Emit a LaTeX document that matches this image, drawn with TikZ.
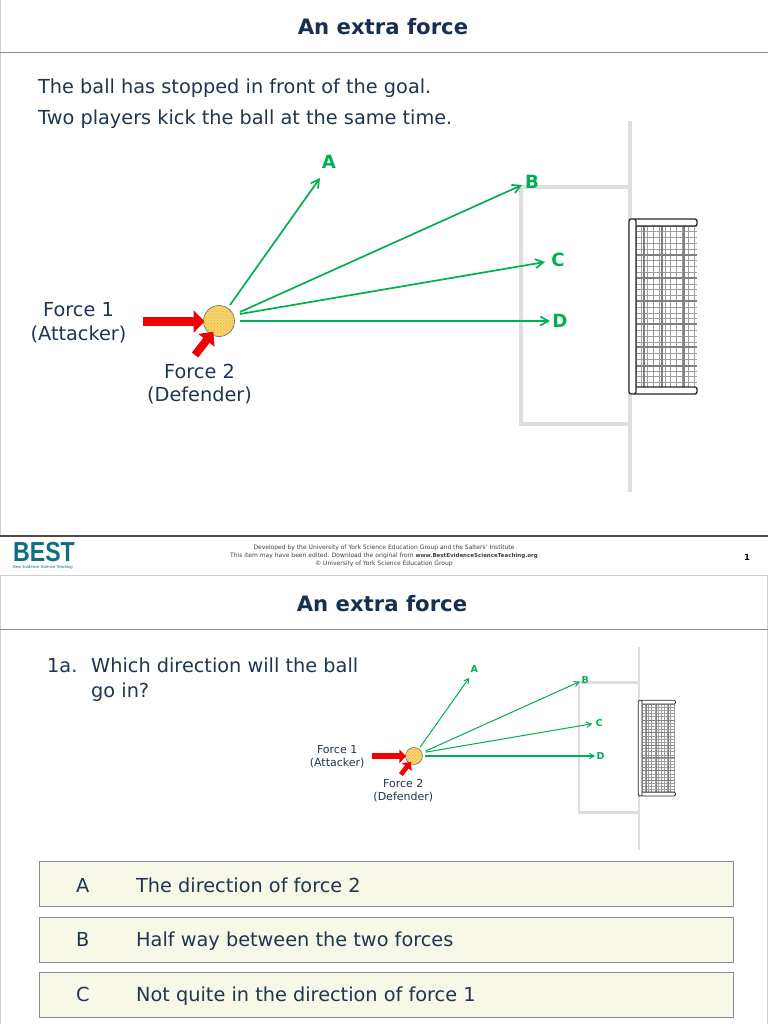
\documentclass[tikz,border=0pt]{standalone}
\usepackage{fontspec}
\setmainfont{DejaVu Sans}
\newfontfamily\logofont{Liberation Sans}
\usetikzlibrary{arrows.meta,patterns}
\definecolor{navy}{HTML}{17304F}
\definecolor{inktext}{HTML}{1F3550}
\definecolor{pitchgrey}{HTML}{DEDEDE}
\definecolor{arrowgreen}{HTML}{00B050}
\definecolor{forcered}{HTML}{F00000}
\definecolor{ballfill}{HTML}{F7D56C}
\definecolor{ballgrain}{HTML}{E8B040}
\definecolor{answerfill}{HTML}{F8F8E8}
\definecolor{answerline}{HTML}{7F8C99}
\definecolor{teal}{HTML}{0F6E84}
\newcommand{\fsz}[1]{\fontsize{#1}{\dimexpr#1pt*6/5\relax}\selectfont}
% #1 prefix, #2 #3 ball centre, #4 geometry scale, #5 text size, #6 label size, #7 line factor
\newcommand{\kickdiagram}[7]{%
\begin{scope}[shift={(#2,#3)},scale=#4]
  \def\lf{#7}
  % pitch markings
  \draw[draw=pitchgrey,line width=\lf*4.2pt] (411,-200) -- (411,171);
  \draw[draw=pitchgrey,line width=\lf*4.2pt] (411,-134) -- (302,-134) -- (302,103) -- (413,103);
  % net
  \foreach \xx in {417,422.8,...,478} {\draw[draw=black!38,line width=\lf*0.8pt] (\xx,-95) -- (\xx,66);}
  \foreach \yy in {-95,-89.2,...,66} {\draw[draw=black!38,line width=\lf*0.8pt] (417,\yy) -- (478,\yy);}
  \foreach \xx in {425,443,465} {\draw[draw=black!50,line width=\lf*1.1pt] (\xx,-95) -- (\xx,66);}
  \foreach \yy in {-66,-43,-20,3,26,45} {\draw[draw=black!50,line width=\lf*1.1pt] (417,\yy) -- (478,\yy);}
  % goal frame
  \draw[draw=black!85,fill=white,line width=\lf*1.3pt,rounded corners=\lf*2pt] (415,-102) rectangle (478,-95);
  \draw[draw=black!85,fill=white,line width=\lf*1.3pt,rounded corners=\lf*2pt] (415,66) rectangle (478,73);
  \draw[draw=black!85,fill=white,line width=\lf*1.3pt,rounded corners=\lf*2pt] (410,-102) rectangle (417,73);
  % ball
  \node[ball,minimum size=#4*31pt] (#1ball) at (0,0) {};
  % forces
  \coordinate (#1f1) at (-76,0.5);
  \coordinate (#1f1t) at (-14.5,0.5);
  \coordinate (#1f2) at (-24,34);
  \coordinate (#1f2t) at (-5.7,10.7);
  \draw[draw=forcered,line width=\lf*9.5pt,-{Triangle[length=\lf*11pt,width=\lf*22pt]}] (#1f1) -- (#1f1t);
  \draw[draw=forcered,line width=\lf*8pt,-{Triangle[length=\lf*11pt,width=\lf*20pt]}] (#1f2) -- (#1f2t);
  % direction labels
  \node[dirlabel,font=\bfseries\fsz{#6}] (#1A) at (110,-159) {A};
  \node[dirlabel,font=\bfseries\fsz{#6}] (#1B) at (313,-139) {B};
  \node[dirlabel,font=\bfseries\fsz{#6}] (#1C) at (339,-61) {C};
  \node[dirlabel,font=\bfseries\fsz{#6}] (#1D) at (341,0) {D};
  % direction arrows
  \coordinate (#1sa) at (11,-16);
  \coordinate (#1sb) at (21,-9);
  \coordinate (#1sc) at (21,-7);
  \coordinate (#1sd) at (21,0);
  \coordinate (#1ea) at (101,-143);
  \coordinate (#1eb) at (303,-136);
  \coordinate (#1ec) at (326,-59);
  \coordinate (#1ed) at (331,0);
  \foreach \p in {a,b,c,d} {\draw[draw=arrowgreen,line width=\lf*1.7pt,-{Straight Barb[length=\lf*8pt,width=\lf*9pt]}] (#1s\p) -- (#1e\p);}
  % force labels
  \node[lbl,font=\fsz{#5}] (#1l1) at (-140.5,1.8) {Force 1\\(Attacker)};
  \node[lbl,font=\fsz{#5}] (#1l2) at (-19.5,62.8) {Force 2\\(Defender)};
\end{scope}}
\tikzset{
  x=1pt,y=-1pt,
  ball/.style={circle,draw=black!60,line width=0.6pt,inner sep=0pt,fill=ballfill,
    postaction={pattern=crosshatch dots,pattern color=ballgrain}},
  dirlabel/.style={text=arrowgreen,inner sep=0pt},
  lbl/.style={text=inktext,align=center,inner sep=0pt},
  titletext/.style={text=navy,font=\bfseries\fsz{21.2}},
  bodytext/.style={text=inktext,font=\fsz{19.3},anchor=base west,inner sep=0pt},
  answer/.style={draw=answerline,fill=answerfill,line width=1.1pt,minimum width=694pt,minimum height=45pt,inner sep=0pt,anchor=north west},
  rulegrey/.style={draw=black!45,line width=1pt},
  rulelight/.style={draw=black!18,line width=1pt},
}
\begin{document}
\begin{tikzpicture}
\useasboundingbox (0,0) rectangle (768,1024);
\fill[white] (0,0) rectangle (768,1024);
% frames
\draw[rulelight] (0.5,0) -- (0.5,536);
\draw[rulelight] (0.5,575) -- (0.5,1024);
\draw[rulelight] (767.5,575) -- (767.5,1024);
\draw[rulelight] (0,575) -- (768,575);
\draw[rulegrey] (0,53) -- (768,53);
\draw[rulegrey] (0,629) -- (768,629);
\draw[draw=black!70,line width=1.2pt] (0,536) -- (768,536);
% titles
\node[titletext] (t1) at (383,27) {An extra force};
\node[titletext] (t2) at (382,603.5) {An extra force};
% slide 1 text
\node[bodytext] (s1a) at (38,93.5) {The ball has stopped in front of the goal.};
\node[bodytext] (s1b) at (38,124.3) {Two players kick the ball at the same time.};
\kickdiagram{u}{219}{321}{1}{19.3}{18.2}{1}
% footer
\node[text=teal,font=\logofont\bfseries\fsz{27.5},inner sep=0pt,xscale=0.84] (logo) at (44,552) {BEST};
\node[text=teal,font=\logofont\fsz{4.1},inner sep=0pt,anchor=west] (tag) at (13,567.5) {Best Evidence Science Teaching};
\node[text=black!75,font=\fsz{6},align=center,inner sep=0pt] (foot) at (384,555.5) {Developed by the University of York Science Education Group and the Salters' Institute\\[0.7pt]This item may have been edited. Download the original from {\bfseries\fsz{5.5}www.BestEvidenceScienceTeaching.org}\\[0.7pt]\textcopyright{} University of York Science Education Group};
\node[text=black,font=\bfseries\fsz{8.5},inner sep=0pt] (pg) at (747,557) {1};
% slide 2 text
\node[bodytext] (q1) at (47,672.3) {1a.};
\node[bodytext] (q2) at (91,672.3) {Which direction will the ball};
\node[bodytext] (q3) at (91,697.8) {go in?};
\kickdiagram{v}{414}{756}{0.547}{11}{9.5}{0.6}
% answers
\node[answer] (ba) at (39,861) {};
\node[answer] (bb) at (39,916.5) {};
\node[answer] (bc) at (39,972) {};
\node[bodytext] (la) at (76,892) {A};
\node[bodytext] (lb) at (76,946.7) {B};
\node[bodytext] (lc) at (76,1001.5) {C};
\node[bodytext] (ta) at (136,892) {The direction of force 2};
\node[bodytext] (tb) at (136,946.7) {Half way between the two forces};
\node[bodytext] (tc) at (136,1001.5) {Not quite in the direction of force 1};
\end{tikzpicture}
\end{document}
